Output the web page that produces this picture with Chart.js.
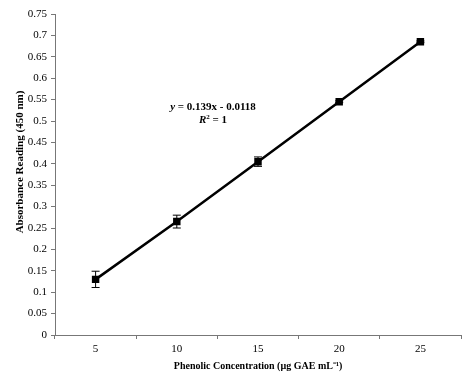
<!DOCTYPE html>
<html><head><meta charset="utf-8">
<script src="https://cdn.jsdelivr.net/npm/chart.js@4"></script>
<style>html,body{margin:0;padding:0;background:#fff}#wrap{width:474px;height:382px}</style>
</head><body><div id="wrap"><canvas id="c" width="474" height="382"></canvas></div>
<script>
const categories = ['5','10','15','20','25'];
const absorbance = [0.13, 0.265, 0.405, 0.545, 0.685];
const errors = [0.019, 0.015, 0.011, 0.002, 0.002];
const equationLines = ['= 0.139x - 0.0118', '= 1'];
const yTitle = 'Absorbance Reading (450 nm)';
const xTitle = 'Phenolic Concentration (µg GAE mL⁻¹)';

const errorBars = {
  id: 'errorBars',
  afterDatasetsDraw(chart) {
    const ctx = chart.ctx, meta = chart.getDatasetMeta(0), y = chart.scales.y;
    ctx.save();
    ctx.strokeStyle = '#000'; ctx.lineWidth = 1;
    meta.data.forEach((pt, i) => {
      const e = errors[i]; if (!e) return;
      const top = y.getPixelForValue(absorbance[i] + e), bot = y.getPixelForValue(absorbance[i] - e);
      ctx.beginPath();
      ctx.moveTo(pt.x, top); ctx.lineTo(pt.x, bot);
      ctx.moveTo(pt.x - 4, top); ctx.lineTo(pt.x + 4, top);
      ctx.moveTo(pt.x - 4, bot); ctx.lineTo(pt.x + 4, bot);
      ctx.stroke();
    });
    ctx.restore();
  }
};
const texts = {
  id: 'texts',
  afterDraw(chart) {
    const ctx = chart.ctx;
    ctx.save();
    ctx.fillStyle = '#000';
    ctx.textBaseline = 'middle';
    // y axis title
    ctx.save();
    ctx.translate(20, 162);
    ctx.rotate(-Math.PI / 2);
    ctx.textAlign = 'center';
    ctx.font = 'bold 11px "Liberation Serif"';
    ctx.fillText(yTitle, 0, 0);
    ctx.restore();
    // equation
    ctx.font = 'italic bold 11px "Liberation Serif"';
    const w1 = ctx.measureText('y ').width;
    ctx.font = 'bold 11px "Liberation Serif"';
    const w2 = ctx.measureText(equationLines[0]).width;
    let x = 213 - (w1 + w2) / 2;
    ctx.font = 'italic bold 11px "Liberation Serif"';
    ctx.fillText('y ', x, 107);
    ctx.font = 'bold 11px "Liberation Serif"';
    ctx.fillText(equationLines[0], x + w1, 107);
    ctx.font = 'italic bold 11px "Liberation Serif"';
    const r = ctx.measureText('R').width;
    ctx.font = 'bold 7px "Liberation Serif"';
    const s = ctx.measureText('2').width;
    ctx.font = 'bold 11px "Liberation Serif"';
    const t = ctx.measureText(' ' + equationLines[1]).width;
    x = 213 - (r + s + t) / 2;
    ctx.font = 'italic bold 11px "Liberation Serif"';
    ctx.fillText('R', x, 120);
    ctx.font = 'bold 7px "Liberation Serif"';
    ctx.fillText('2', x + r, 117);
    ctx.font = 'bold 11px "Liberation Serif"';
    ctx.fillText(' ' + equationLines[1], x + r + s, 120);
    ctx.restore();
  }
};

new Chart(document.getElementById('c'), {
  type: 'line',
  data: {
    labels: categories,
    datasets: [{
      data: absorbance,
      borderColor: '#000',
      backgroundColor: '#000',
      borderWidth: 2.5,
      pointStyle: 'rect',
      pointRadius: 3.5,
      pointHoverRadius: 3.5,
      tension: 0
    }]
  },
  options: {
    responsive: false,
    animation: false,
    devicePixelRatio: 1,
    layout: { padding: { top: 14, right: 13, left: 0, bottom: 8 } },
    plugins: { legend: { display: false }, tooltip: { enabled: false } },
    scales: {
      x: {
        type: 'category',
        offset: true,
        grid: { offset: true, drawOnChartArea: false, color: '#777', tickLength: 4, tickColor: '#777' },
        border: { color: '#777', width: 1 },
        ticks: { color: '#000', font: { family: 'Liberation Serif', size: 11 }, padding: 4 },
        title: { display: true, text: xTitle, color: '#000', font: { family: 'Liberation Serif', size: 10, weight: 'bold' }, padding: { top: 2, bottom: 2 } },
        afterFit(s) { s.height = 39; }
      },
      y: {
        min: 0, max: 0.75,
        grid: { drawOnChartArea: false, color: '#777', tickLength: 4, tickColor: '#777' },
        border: { color: '#777', width: 1 },
        ticks: { stepSize: 0.05, color: '#000', font: { family: 'Liberation Serif', size: 11 }, padding: 4,
          callback: v => String(parseFloat(v.toFixed(2))) },
        afterFit(s) { s.width = 55; }
      }
    }
  },
  plugins: [errorBars, texts]
});
</script></body></html>
